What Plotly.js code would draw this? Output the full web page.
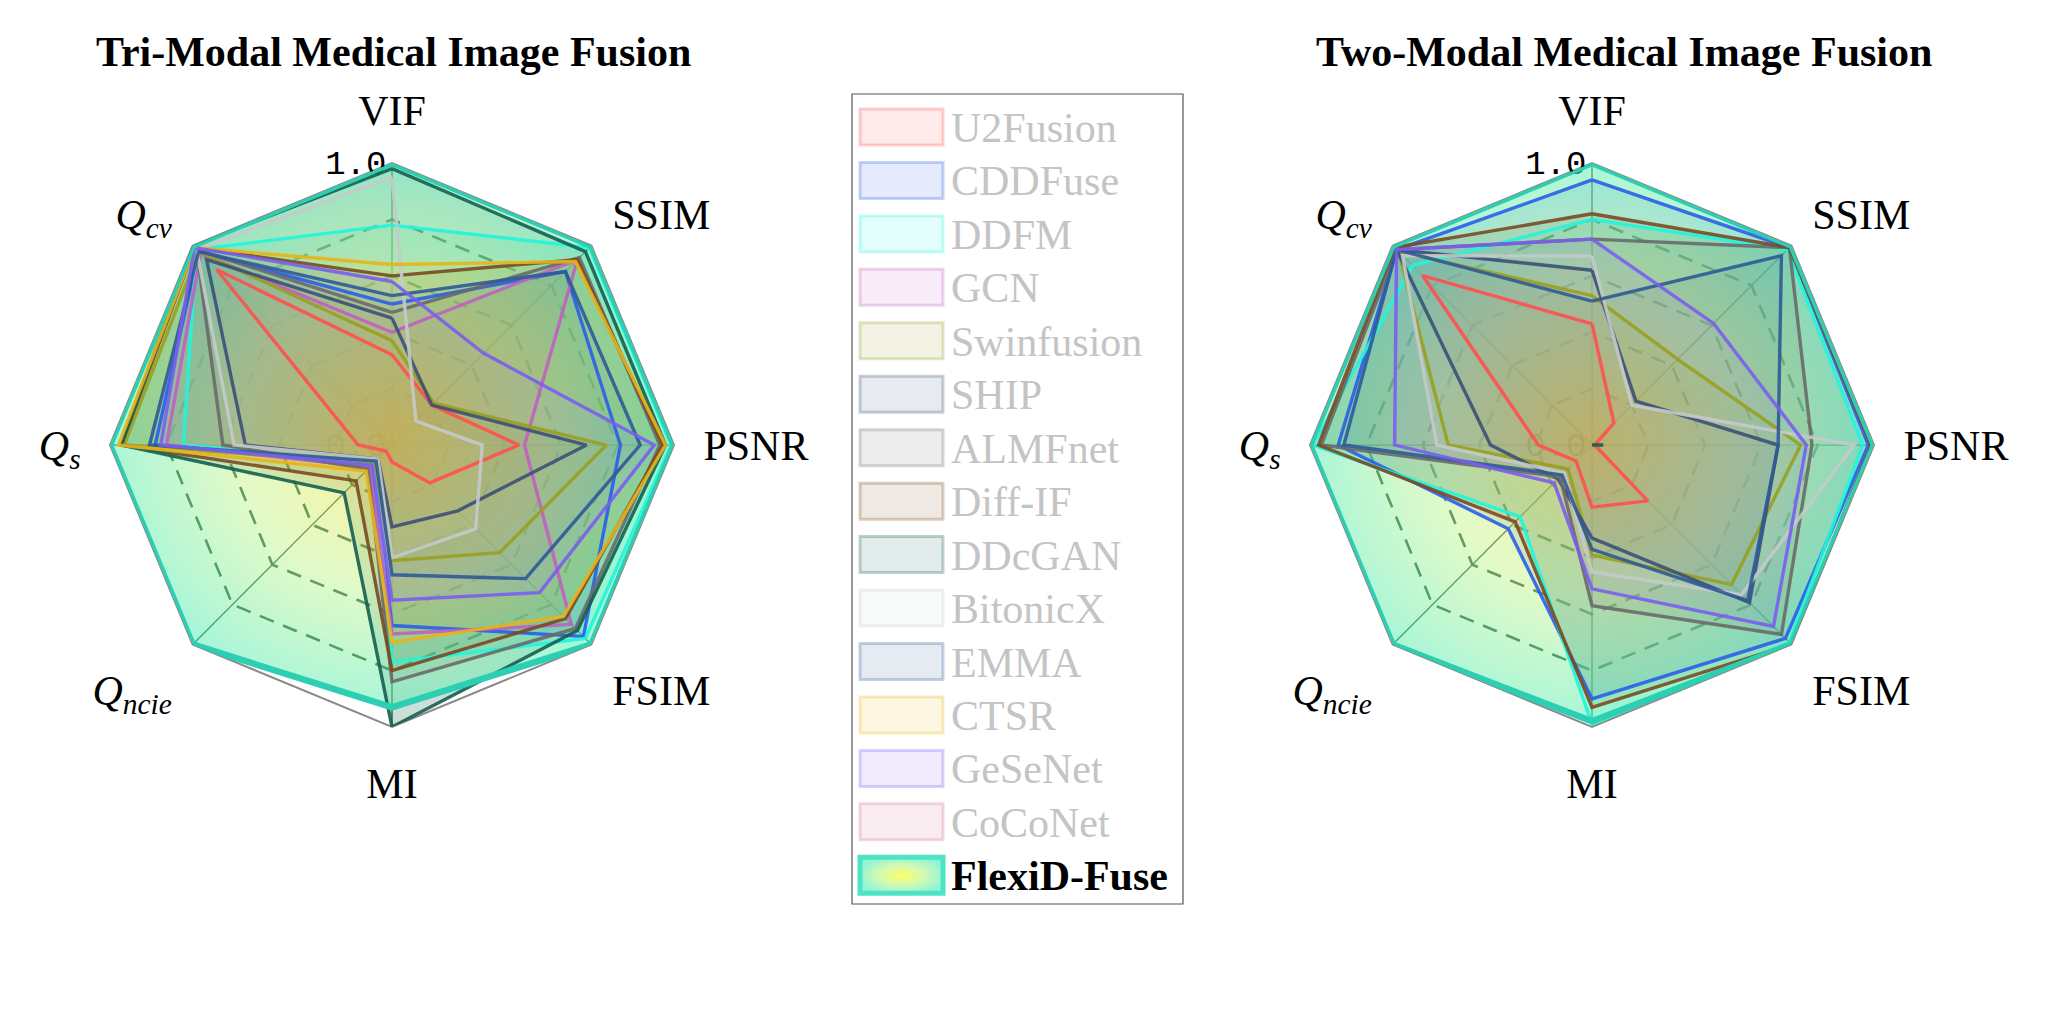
<!DOCTYPE html>
<html>
<head>
<meta charset="utf-8">
<script src="https://cdn.plot.ly/plotly-3.0.1.min.js"></script>
<style>
  html, body { margin: 0; padding: 0; background: #ffffff; }
  #chart { width: 2048px; height: 1022px; }
</style>
</head>
<body>
<div id="chart"></div>
<script>
// ---------- data ----------
const axes = ['VIF', 'SSIM', 'PSNR', 'FSIM', 'MI', 'Qncie', 'Qs', 'Qcv'];
const axisLabels = ['VIF', 'SSIM', 'PSNR', 'FSIM', 'MI',
  '<i>Q</i><sub><i>ncie</i></sub>', '<i>Q</i><sub><i>s</i></sub>', '<i>Q</i><sub><i>cv</i></sub>'];
const methods = ['U2Fusion', 'CDDFuse', 'DDFM', 'GCN', 'Swinfusion', 'SHIP', 'ALMFnet',
  'Diff-IF', 'DDcGAN', 'BitonicX', 'EMMA', 'CTSR', 'GeSeNet', 'CoCoNet', 'FlexiD-Fuse'];
const colors = ['#ff5050', '#2a5ee8', '#20f5dc', '#c060c0', '#98a020', '#3c5078', '#6a6a6a',
  '#7a4a22', '#145f50', '#c4caca', '#2f5a98', '#e8b418', '#7a5ef0', '#d86890', '#2ccfb2'];
const titles = ['Tri-Modal Medical Image Fusion', 'Two-Modal Medical Image Fusion'];

// Tri-modal values, axis order = axes
const triU2Fusion   = [0.32, 0.20, 0.45, 0.19, 0.06, 0.03, 0.12, 0.88];
const triCDDFuse    = [0.50, 0.87, 0.81, 0.96, 0.64, 0.10, 0.84, 0.97];
const triDDFM       = [0.78, 0.99, 0.99, 0.97, 0.77, 0.09, 0.74, 0.98];
const triGCN        = [0.40, 0.93, 0.47, 0.90, 0.67, 0.11, 0.80, 0.96];
const triSwinfusion = [0.37, 0.21, 0.76, 0.54, 0.41, 0.09, 0.95, 0.97];
const triSHIP       = [0.45, 0.20, 0.69, 0.33, 0.29, 0.07, 0.52, 0.93];
const triALMFnet    = [0.47, 0.94, 0.95, 0.92, 0.84, 0.12, 0.60, 0.98];
const triDiffIF     = [0.60, 0.93, 0.96, 0.87, 0.80, 0.18, 0.96, 0.99];
const triDDcGAN     = [0.98, 0.97, 0.97, 0.93, 1.00, 0.24, 0.96, 1.00];
const triBitonicX   = [0.95, 0.12, 0.32, 0.42, 0.40, 0.07, 0.56, 0.98];
const triEMMA       = [0.53, 0.87, 0.88, 0.67, 0.46, 0.08, 0.86, 0.97];
const triCTSR       = [0.64, 0.92, 0.97, 0.86, 0.70, 0.13, 0.97, 0.99];
const triGeSeNet    = [0.58, 0.46, 0.93, 0.74, 0.55, 0.10, 0.82, 0.99];
const triCoCoNet    = [0.00, 0.00, 0.00, 0.00, 0.00, 0.00, 0.00, 0.00];
const triFlexiD     = [1.00, 1.00, 1.00, 1.00, 0.93, 1.00, 1.00, 1.00];

// Two-modal values
const twoU2Fusion   = [0.43, 0.11, 0.01, 0.28, 0.22, 0.08, 0.19, 0.85];
const twoCDDFuse    = [0.94, 0.99, 0.98, 0.97, 0.90, 0.42, 0.90, 0.98];
const twoDDFM       = [0.80, 0.98, 0.96, 0.99, 0.99, 0.36, 0.99, 0.90];
const twoGCN        = [0.00, 0.00, 0.00, 0.00, 0.00, 0.00, 0.00, 0.00];
const twoSwinfusion = [0.53, 0.43, 0.74, 0.70, 0.39, 0.12, 0.51, 0.97];
const twoSHIP       = [0.62, 0.22, 0.66, 0.79, 0.33, 0.17, 0.36, 0.98];
const twoALMFnet    = [0.73, 0.99, 0.78, 0.95, 0.57, 0.16, 0.96, 0.98];
const twoDiffIF     = [0.82, 0.99, 0.99, 1.00, 0.93, 0.385, 0.97, 0.99];
const twoDDcGAN     = [0.00, 0.00, 0.04, 0.00, 0.00, 0.00, 0.00, 0.00];
const twoBitonicX   = [0.67, 0.20, 0.93, 0.75, 0.45, 0.14, 0.55, 0.95];
const twoEMMA       = [0.51, 0.95, 0.66, 0.78, 0.37, 0.15, 0.88, 0.98];
const twoCTSR       = [0.00, 0.00, 0.00, 0.00, 0.00, 0.00, 0.00, 0.00];
const twoGeSeNet    = [0.73, 0.61, 0.76, 0.91, 0.51, 0.19, 0.70, 0.98];
const twoCoCoNet    = [0.00, 0.00, 0.00, 0.00, 0.00, 0.00, 0.00, 0.00];
const twoFlexiD     = [1.00, 1.00, 1.00, 1.00, 0.98, 1.00, 1.00, 1.00];

const triSeries = [triU2Fusion, triCDDFuse, triDDFM, triGCN, triSwinfusion, triSHIP, triALMFnet,
  triDiffIF, triDDcGAN, triBitonicX, triEMMA, triCTSR, triGeSeNet, triCoCoNet, triFlexiD];
const twoSeries = [twoU2Fusion, twoCDDFuse, twoDDFM, twoGCN, twoSwinfusion, twoSHIP, twoALMFnet,
  twoDiffIF, twoDDcGAN, twoBitonicX, twoEMMA, twoCTSR, twoGeSeNet, twoCoCoNet, twoFlexiD];

// ---------- helpers ----------
function rgba(hex, a) {
  const n = parseInt(hex.slice(1), 16);
  return 'rgba(' + ((n >> 16) & 255) + ',' + ((n >> 8) & 255) + ',' + (n & 255) + ',' + a + ')';
}
const closed = arr => arr.concat([arr[0]]);
const thetaClosed = closed(axes);

const data = [];
function addChart(series, subplot) {
  const last = methods.length - 1;
  const present = [];
  for (let i = 0; i < last; i++) if (Math.max(...series[i]) > 0) present.push(i);
  // 1) translucent fills of the compared methods
  present.forEach(i => data.push({
    type: 'scatterpolar', subplot: subplot, r: closed(series[i]), theta: thetaClosed,
    mode: 'lines', fill: 'toself', fillcolor: rgba(colors[i], 0.21),
    line: {width: 0, color: 'rgba(0,0,0,0)'}, name: methods[i], showlegend: false, hoverinfo: 'skip'
  }));
  // 2) FlexiD-Fuse gradient fill (gradient applied after render)
  data.push({
    type: 'scatterpolar', subplot: subplot, r: closed(series[last]), theta: thetaClosed,
    mode: 'lines', fill: 'toself', fillcolor: 'rgba(120,240,200,0.45)',
    line: {width: 0, color: 'rgba(0,0,0,0)'}, name: methods[last], meta: 'flexfill',
    showlegend: false, hoverinfo: 'skip'
  });
  // 3) outlines of the compared methods
  present.forEach(i => data.push({
    type: 'scatterpolar', subplot: subplot, r: closed(series[i]), theta: thetaClosed,
    mode: 'lines', fill: 'none', opacity: 0.9,
    line: {width: 3.4, color: colors[i]}, name: methods[i], showlegend: false
  }));
  // 4) FlexiD-Fuse outline
  data.push({
    type: 'scatterpolar', subplot: subplot, r: closed(series[last]), theta: thetaClosed,
    mode: 'lines', fill: 'none',
    line: {width: 6.5, color: colors[last]}, name: methods[last], showlegend: false
  });
}
addChart(triSeries, 'polar');
addChart(twoSeries, 'polar2');

function polarLayout(dx) {
  return {
    domain: {x: dx, y: [0.2886, 0.8405]},
    gridshape: 'linear',
    bgcolor: 'rgba(0,0,0,0)',
    radialaxis: {
      range: [0, 1], tickmode: 'array',
      tickvals: [0, 0.2, 0.4, 0.6, 0.8, 1.0],
      ticktext: ['0.0', '', '', '', '', '1.0'],
      angle: 90, side: 'counterclockwise', tickangle: 90,
      showline: false, ticks: '',
      gridcolor: '#0f4a2a', gridwidth: 2.6, griddash: '15px,10px',
      tickfont: {family: 'Liberation Mono', size: 34, color: '#000000'},
      layer: 'below traces'
    },
    angularaxis: {
      type: 'category', categoryarray: axes, direction: 'clockwise', rotation: 90,
      tickmode: 'array', tickvals: axes, ticktext: axisLabels,
      tickfont: {family: 'Liberation Serif', size: 42, color: '#000000'},
      ticks: 'outside', ticklen: 20, tickcolor: 'rgba(0,0,0,0)',
      showline: true, linecolor: '#8a8a8a', linewidth: 2,
      gridcolor: '#1f4f1f', gridwidth: 1.3,
      layer: 'below traces'
    }
  };
}

// ---------- legend (drawn with shapes + annotations) ----------
const W = 2048, H = 1022;
const px = x => x / W, py = y => 1 - y / H;
const shapes = [{
  type: 'rect', xref: 'paper', yref: 'paper',
  x0: px(852), x1: px(1183), y0: py(94), y1: py(904),
  line: {color: '#555555', width: 1.2}, fillcolor: 'rgba(255,255,255,0)'
}];
const annotations = [];
let flexSwatchIndex = -1;
methods.forEach((m, i) => {
  const yc = 127 + i * 53.45;
  const isFlex = i === methods.length - 1;
  if (isFlex) flexSwatchIndex = shapes.length;
  shapes.push({
    type: 'rect', xref: 'paper', yref: 'paper',
    x0: px(860), x1: px(943), y0: py(yc - 18), y1: py(yc + 18),
    line: {color: isFlex ? '#4fe3c6' : rgba(colors[i], 0.28), width: isFlex ? 5 : 3},
    fillcolor: isFlex ? 'rgba(170,250,210,1)' : rgba(colors[i], 0.12)
  });
  annotations.push({
    xref: 'paper', yref: 'paper', x: px(949), y: py(yc + 1),
    xanchor: 'left', yanchor: 'middle', showarrow: false,
    text: isFlex ? '<b>' + m + '</b>' : m,
    font: {family: 'Liberation Serif', size: 42, color: isFlex ? '#000000' : '#c4c4c4'}
  });
});
annotations.push({
  xref: 'paper', yref: 'paper', x: px(393), y: py(52), xanchor: 'center', yanchor: 'middle',
  showarrow: false, text: '<b>' + titles[0] + '</b>',
  font: {family: 'Liberation Serif', size: 42, color: '#000000'}
});
annotations.push({
  xref: 'paper', yref: 'paper', x: px(1624), y: py(52), xanchor: 'center', yanchor: 'middle',
  showarrow: false, text: '<b>' + titles[1] + '</b>',
  font: {family: 'Liberation Serif', size: 42, color: '#000000'}
});

const layout = {
  width: W, height: H,
  margin: {l: 0, r: 0, t: 0, b: 0},
  paper_bgcolor: '#ffffff',
  showlegend: false,
  polar: polarLayout([(392 - 282) / W, (392 + 282) / W]),
  polar2: polarLayout([(1592 - 282) / W, (1592 + 282) / W]),
  shapes: shapes,
  annotations: annotations
};

Plotly.newPlot('chart', data, layout, {displayModeBar: false, staticPlot: true}).then(gd => {
  const NS = 'http://www.w3.org/2000/svg';
  const defs = gd.querySelector('svg.main-svg defs');
  function makeGrad(id, stops) {
    const g = document.createElementNS(NS, 'radialGradient');
    g.setAttribute('id', id);
    g.setAttribute('cx', '0.5'); g.setAttribute('cy', '0.5'); g.setAttribute('r', '0.55');
    stops.forEach(s => {
      const st = document.createElementNS(NS, 'stop');
      st.setAttribute('offset', s[0]);
      st.setAttribute('stop-color', s[1]);
      st.setAttribute('stop-opacity', s[2]);
      g.appendChild(st);
    });
    defs.appendChild(g);
  }
  makeGrad('flexGrad', [[0, '#ffe030', 0.5], [0.5, '#c4f58c', 0.48], [1, '#48ecc0', 0.55]]);
  makeGrad('flexGradSwatch', [[0, '#ffff50', 0.9], [0.5, '#c8f8a0', 0.8], [1, '#6af0cc', 0.75]]);
  gd.querySelectorAll('g.trace').forEach(g => {
    const d = g.__data__;
    if (d && d[0] && d[0].trace && d[0].trace.meta === 'flexfill') {
      g.querySelectorAll('path.js-fill').forEach(p => {
        p.style.fill = 'url(#flexGrad)';
        p.style.fillOpacity = 1;
      });
    }
  });
  gd.querySelectorAll('.shapelayer path').forEach(p => {
    if (p.getAttribute('data-index') === String(flexSwatchIndex)) {
      p.style.fill = 'url(#flexGradSwatch)';
      p.style.fillOpacity = 1;
    }
  });
});
</script>
</body>
</html>
